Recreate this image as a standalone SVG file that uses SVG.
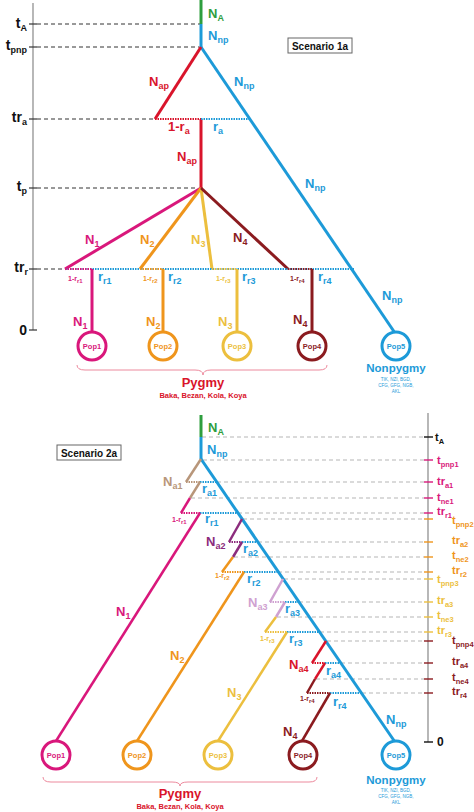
<svg xmlns="http://www.w3.org/2000/svg" width="474" height="812" viewBox="0 0 474 812">
<style>
text{font-family:"Liberation Sans",Arial,sans-serif;font-weight:bold}
.L{font-size:13px}
.S{font-size:9px}
.ax{font-size:14px;fill:#111}
.axs{font-size:9px}
.sm{font-size:7px}
.bx{font-size:11px}
.bxs{font-size:7.5px}
.pop{font-size:7.5px;text-anchor:middle}
.ln{fill:none;stroke-width:3;stroke-linecap:butt}
.ln2{fill:none;stroke-width:2.5}
.dot{fill:none;stroke-width:2;stroke-dasharray:1.5 1}
.dash{fill:none;stroke:#333;stroke-width:1;stroke-dasharray:4 3}
.gdash{fill:none;stroke:#b5b5b5;stroke-width:1;stroke-dasharray:4 3}
.circ{fill:#fff;stroke-width:3}
.g{stroke:#2e9e3e;fill:#2e9e3e}
.b{stroke:#1d9ad8;fill:#1d9ad8}
.r{stroke:#d9142b;fill:#d9142b}
.p{stroke:#d9177b;fill:#d9177b}
.o{stroke:#ef951c;fill:#ef951c}
.y{stroke:#ecbf3e;fill:#ecbf3e}
.d{stroke:#8b1b1f;fill:#8b1b1f}
.t{stroke:#b8967a;fill:#b8967a}
.u{stroke:#8c2c7d;fill:#8c2c7d}
.l{stroke:#cfa1d1;fill:#cfa1d1}
text.g,text.b,text.r,text.p,text.o,text.y,text.d,text.t,text.u,text.l{stroke:none}
.circ.p,.circ.o,.circ.y,.circ.d,.circ.b{fill:#fff}
</style>

<!-- ================= Scenario 1a ================= -->
<g id="axis1">
  <line x1="33" y1="3" x2="33" y2="330" stroke="#888" stroke-width="1.2"/>
  <g stroke="#333" stroke-width="1.2">
    <line x1="29" y1="24" x2="37" y2="24"/>
    <line x1="29" y1="47" x2="37" y2="47"/>
    <line x1="29" y1="119" x2="37" y2="119"/>
    <line x1="29" y1="188" x2="37" y2="188"/>
    <line x1="29" y1="269" x2="37" y2="269"/>
    <line x1="29" y1="330" x2="37" y2="330"/>
  </g>
  <text class="ax" x="27" y="28" text-anchor="end">t<tspan class="axs" dy="3">A</tspan></text>
  <text class="ax" x="27" y="50" text-anchor="end">t<tspan class="axs" dy="3">pnp</tspan></text>
  <text class="ax" x="27" y="122" text-anchor="end">tr<tspan class="axs" dy="3">a</tspan></text>
  <text class="ax" x="27" y="191" text-anchor="end">t<tspan class="axs" dy="3">p</tspan></text>
  <text class="ax" x="28" y="272" text-anchor="end">tr<tspan class="axs" dy="3">r</tspan></text>
  <text class="ax" x="27" y="335" text-anchor="end">0</text>
</g>

<g id="scenario1a-label">
  <rect x="288" y="38" width="64" height="15" fill="#fff" stroke="#666" stroke-width="1"/>
  <text x="320" y="49.5" text-anchor="middle" style="font-size:10px" fill="#111">Scenario 1a</text>
</g>

<g id="connectors1">
  <line class="dash" x1="37" y1="24" x2="200" y2="24"/>
  <line class="dash" x1="37" y1="47" x2="199" y2="47"/>
  <line class="dash" x1="37" y1="119" x2="153" y2="119"/>
  <line class="dash" x1="37" y1="188" x2="198" y2="188"/>
  <line class="dash" x1="37" y1="269" x2="63" y2="269"/>

  <line class="ln g" x1="201" y1="0" x2="201" y2="24"/>
  <line class="ln b" x1="201" y1="24" x2="201" y2="47"/>
  <line class="ln b" x1="201" y1="47" x2="395" y2="333"/>
  <line class="ln r" x1="201" y1="47" x2="155" y2="119"/>
  <line class="ln r" x1="201" y1="119" x2="201" y2="188"/>
  <line class="dot r" x1="155" y1="119" x2="201" y2="119"/>
  <line class="dot b" x1="201" y1="119" x2="250" y2="119" stroke-width="1.2"/>

  <line class="ln p" x1="201" y1="188" x2="65" y2="269"/>
  <line class="ln o" x1="201" y1="188" x2="140" y2="269"/>
  <line class="ln y" x1="201" y1="188" x2="212" y2="269"/>
  <line class="ln d" x1="201" y1="188" x2="288" y2="269"/>

  <line class="dot b" x1="65" y1="269" x2="355" y2="269" stroke-width="1.5"/>
  <line class="dot p" x1="65" y1="269" x2="92" y2="269"/>
  <line class="dot o" x1="140" y1="269" x2="163" y2="269"/>
  <line class="dot y" x1="212" y1="269" x2="237" y2="269"/>
  <line class="dot d" x1="288" y1="269" x2="312" y2="269"/>

  <line class="ln p" x1="92" y1="269" x2="92" y2="332"/>
  <line class="ln o" x1="163" y1="269" x2="163" y2="332"/>
  <line class="ln y" x1="237" y1="269" x2="237" y2="332"/>
  <line class="ln d" x1="312" y1="269" x2="312" y2="332"/>
</g>

<g id="labels1">
  <text class="L g" x="208" y="18">N<tspan class="S" dy="3">A</tspan></text>
  <text class="L b" x="208" y="40">N<tspan class="S" dy="3">np</tspan></text>
  <text class="L r" x="149" y="86">N<tspan class="S" dy="3">ap</tspan></text>
  <text class="L b" x="234" y="86">N<tspan class="S" dy="3">np</tspan></text>
  <text class="L r" x="168" y="131">1-r<tspan class="S" dy="3">a</tspan></text>
  <text class="L b" x="213" y="131">r<tspan class="S" dy="3">a</tspan></text>
  <text class="L r" x="177" y="161">N<tspan class="S" dy="3">ap</tspan></text>
  <text class="L b" x="305" y="188">N<tspan class="S" dy="3">np</tspan></text>
  <text class="L b" x="382" y="300">N<tspan class="S" dy="3">np</tspan></text>

  <text class="L p" x="85" y="244">N<tspan class="S" dy="3">1</tspan></text>
  <text class="L o" x="140" y="244">N<tspan class="S" dy="3">2</tspan></text>
  <text class="L y" x="191" y="244">N<tspan class="S" dy="3">3</tspan></text>
  <text class="L d" x="233" y="242">N<tspan class="S" dy="3">4</tspan></text>

  <text class="sm p" x="68" y="281">1-r<tspan style="font-size:6px" dy="2">r1</tspan></text>
  <text class="L b" x="98" y="281">r<tspan class="S" dy="3">r1</tspan></text>
  <text class="sm o" x="143" y="281">1-r<tspan style="font-size:6px" dy="2">r2</tspan></text>
  <text class="L b" x="168" y="281">r<tspan class="S" dy="3">r2</tspan></text>
  <text class="sm y" x="216" y="281">1-r<tspan style="font-size:6px" dy="2">r3</tspan></text>
  <text class="L b" x="242" y="281">r<tspan class="S" dy="3">r3</tspan></text>
  <text class="sm d" x="290" y="281">1-r<tspan style="font-size:6px" dy="2">r4</tspan></text>
  <text class="L b" x="318" y="281">r<tspan class="S" dy="3">r4</tspan></text>

  <text class="L p" x="73" y="326">N<tspan class="S" dy="3">1</tspan></text>
  <text class="L o" x="146" y="326">N<tspan class="S" dy="3">2</tspan></text>
  <text class="L y" x="218" y="326">N<tspan class="S" dy="3">3</tspan></text>
  <text class="L d" x="293" y="324">N<tspan class="S" dy="3">4</tspan></text>
</g>

<g id="pop1-1a"><circle class="circ p" cx="92" cy="346" r="14"/><text class="pop p" x="92" y="349">Pop1</text></g>
<g id="pop2-1a"><circle class="circ o" cx="163" cy="346" r="14"/><text class="pop o" x="163" y="349">Pop2</text></g>
<g id="pop3-1a"><circle class="circ y" cx="237" cy="346" r="14"/><text class="pop y" x="237" y="349">Pop3</text></g>
<g id="pop4-1a"><circle class="circ d" cx="312" cy="346" r="14"/><text class="pop d" x="312" y="349">Pop4</text></g>
<g id="pop5-1a"><circle class="circ b" cx="396" cy="346" r="14"/><text class="pop b" x="396" y="349">Pop5</text></g>

<g id="groups1a">
  <path d="M77,365 Q77,370 85,370 L195,370 Q203,370 203,375 Q203,370 211,370 L319,370 Q327,370 327,365" fill="none" stroke="#ea7d92" stroke-width="0.9"/>
  <text x="203" y="387" text-anchor="middle" style="font-size:13px" fill="#d9142b">Pygmy</text>
  <text x="203" y="398" text-anchor="middle" style="font-size:7.5px" fill="#d9142b">Baka, Bezan, Kola, Koya</text>
  <text x="396" y="372" text-anchor="middle" style="font-size:11.5px" fill="#1d9ad8">Nonpygmy</text>
  <g fill="#1d9ad8" text-anchor="middle">
    <text x="396" y="381" style="font-size:4.5px;font-weight:normal">TIK, NZI, BGD,</text>
    <text x="396" y="387" style="font-size:4.5px;font-weight:normal">CFG, GFG, NGB,</text>
    <text x="396" y="393" style="font-size:4.5px;font-weight:normal">AKL</text>
  </g>
</g>

<!-- ================= Scenario 2a ================= -->
<g id="scenario2a-label">
  <rect x="57" y="445" width="64" height="15" fill="#fff" stroke="#666" stroke-width="1"/>
  <text x="89" y="456.5" text-anchor="middle" style="font-size:10px" fill="#111">Scenario 2a</text>
</g>

<g id="axis2">
  <line x1="428" y1="413" x2="428" y2="742" stroke="#888" stroke-width="1.2"/>
  <g stroke-width="1.4">
    <line x1="424" y1="437" x2="433" y2="437" stroke="#111"/>
    <line x1="424" y1="460" x2="433" y2="460" stroke="#d9177b"/>
    <line x1="424" y1="482" x2="433" y2="482" stroke="#d9177b"/>
    <line x1="424" y1="498" x2="433" y2="498" stroke="#d9177b"/>
    <line x1="424" y1="513" x2="433" y2="513" stroke="#d9177b"/>
    <line x1="424" y1="519" x2="433" y2="519" stroke="#ef951c"/>
    <line x1="424" y1="542" x2="433" y2="542" stroke="#ef951c"/>
    <line x1="424" y1="557" x2="433" y2="557" stroke="#ef951c"/>
    <line x1="424" y1="572" x2="433" y2="572" stroke="#ef951c"/>
    <line x1="424" y1="579" x2="433" y2="579" stroke="#ecbf3e"/>
    <line x1="424" y1="602" x2="433" y2="602" stroke="#ecbf3e"/>
    <line x1="424" y1="617" x2="433" y2="617" stroke="#ecbf3e"/>
    <line x1="424" y1="632" x2="433" y2="632" stroke="#ecbf3e"/>
    <line x1="424" y1="641" x2="433" y2="641" stroke="#8b1b1f"/>
    <line x1="424" y1="663" x2="433" y2="663" stroke="#8b1b1f"/>
    <line x1="424" y1="679" x2="433" y2="679" stroke="#8b1b1f"/>
    <line x1="424" y1="693" x2="433" y2="693" stroke="#8b1b1f"/>
    <line x1="424" y1="742" x2="433" y2="742" stroke="#111"/>
  </g>
  <text class="bx" x="435" y="441" fill="#111">t<tspan class="bxs" dy="2.5">A</tspan></text>
  <text class="bx p" x="437" y="464">t<tspan class="bxs" dy="2.5">pnp1</tspan></text>
  <text class="bx p" x="437" y="485">tr<tspan class="bxs" dy="2.5">a1</tspan></text>
  <text class="bx p" x="437" y="501">t<tspan class="bxs" dy="2.5">ne1</tspan></text>
  <text class="bx p" x="437" y="515">tr<tspan class="bxs" dy="2.5">r1</tspan></text>
  <text class="bx o" x="452" y="524">t<tspan class="bxs" dy="2.5">pnp2</tspan></text>
  <text class="bx o" x="452" y="544">tr<tspan class="bxs" dy="2.5">a2</tspan></text>
  <text class="bx o" x="452" y="559">t<tspan class="bxs" dy="2.5">ne2</tspan></text>
  <text class="bx o" x="452" y="574">tr<tspan class="bxs" dy="2.5">r2</tspan></text>
  <text class="bx y" x="437" y="583">t<tspan class="bxs" dy="2.5">pnp3</tspan></text>
  <text class="bx y" x="437" y="604">tr<tspan class="bxs" dy="2.5">a3</tspan></text>
  <text class="bx y" x="437" y="619">t<tspan class="bxs" dy="2.5">ne3</tspan></text>
  <text class="bx y" x="437" y="634">tr<tspan class="bxs" dy="2.5">r3</tspan></text>
  <text class="bx d" x="452" y="644">t<tspan class="bxs" dy="2.5">pnp4</tspan></text>
  <text class="bx d" x="452" y="665">tr<tspan class="bxs" dy="2.5">a4</tspan></text>
  <text class="bx d" x="452" y="681">t<tspan class="bxs" dy="2.5">ne4</tspan></text>
  <text class="bx d" x="452" y="695">tr<tspan class="bxs" dy="2.5">r4</tspan></text>
  <text x="437" y="746" style="font-size:12px" fill="#111">0</text>
</g>

<g id="connectors2">
  <line class="gdash" x1="202" y1="437" x2="424" y2="437"/>
  <line class="gdash" x1="203" y1="460" x2="424" y2="460"/>
  <line class="gdash" x1="217" y1="482" x2="424" y2="482"/>
  <line class="gdash" x1="191" y1="498" x2="424" y2="498"/>
  <line class="gdash" x1="238" y1="513" x2="424" y2="513"/>
  <line class="gdash" x1="243" y1="519" x2="424" y2="519"/>
  <line class="gdash" x1="258" y1="542" x2="424" y2="542"/>
  <line class="gdash" x1="234" y1="557" x2="424" y2="557"/>
  <line class="gdash" x1="278" y1="572" x2="424" y2="572"/>
  <line class="gdash" x1="284" y1="579" x2="424" y2="579"/>
  <line class="gdash" x1="299" y1="602" x2="424" y2="602"/>
  <line class="gdash" x1="277" y1="617" x2="424" y2="617"/>
  <line class="gdash" x1="320" y1="632" x2="424" y2="632"/>
  <line class="gdash" x1="327" y1="641" x2="424" y2="641"/>
  <line class="gdash" x1="341" y1="663" x2="424" y2="663"/>
  <line class="gdash" x1="316" y1="679" x2="424" y2="679"/>
  <line class="gdash" x1="362" y1="693" x2="424" y2="693"/>

  <line class="ln g" x1="201" y1="415" x2="201" y2="437"/>
  <line class="ln b" x1="201" y1="437" x2="201" y2="459"/>
  <line class="ln b" x1="201" y1="459" x2="395" y2="742"/>

  <line class="ln2 t" x1="201" y1="459" x2="186" y2="482"/>
  <line class="dot t" x1="186" y1="482" x2="200" y2="482" stroke-width="1.3"/>
  <line class="dot b" x1="200" y1="482" x2="217" y2="482" stroke-width="1.3"/>
  <line class="ln2 t" x1="200" y1="482" x2="190" y2="498"/>
  <line class="ln2 p" x1="190" y1="498" x2="181" y2="513"/>
  <line class="dot p" x1="181" y1="513" x2="200" y2="513" stroke-width="1.3"/>
  <line class="dot b" x1="200" y1="513" x2="238" y2="513" stroke-width="1.3"/>
  <line class="ln2 p" x1="200" y1="513" x2="56" y2="741"/>

  <line class="ln2 u" x1="242" y1="519" x2="229" y2="542"/>
  <line class="dot u" x1="229" y1="542" x2="242" y2="542" stroke-width="1.3"/>
  <line class="dot b" x1="242" y1="542" x2="258" y2="542" stroke-width="1.3"/>
  <line class="ln2 u" x1="242" y1="542" x2="233" y2="557"/>
  <line class="ln2 o" x1="233" y1="557" x2="222" y2="572"/>
  <line class="dot o" x1="222" y1="572" x2="244" y2="572" stroke-width="1.3"/>
  <line class="dot b" x1="244" y1="572" x2="278" y2="572" stroke-width="1.3"/>
  <line class="ln2 o" x1="244" y1="572" x2="137" y2="741"/>

  <line class="ln2 l" x1="283" y1="579" x2="270" y2="602"/>
  <line class="dot l" x1="270" y1="602" x2="285" y2="602" stroke-width="1.3"/>
  <line class="dot b" x1="285" y1="602" x2="299" y2="602" stroke-width="1.3"/>
  <line class="ln2 l" x1="285" y1="602" x2="276" y2="617"/>
  <line class="ln2 y" x1="276" y1="617" x2="265" y2="632"/>
  <line class="dot y" x1="265" y1="632" x2="287" y2="632" stroke-width="1.3"/>
  <line class="dot b" x1="287" y1="632" x2="320" y2="632" stroke-width="1.3"/>
  <line class="ln2 y" x1="287" y1="632" x2="218" y2="741"/>

  <line class="ln2 r" x1="326" y1="641" x2="312" y2="663"/>
  <line class="dot r" x1="312" y1="663" x2="325" y2="663" stroke-width="1.3"/>
  <line class="dot b" x1="325" y1="663" x2="341" y2="663" stroke-width="1.3"/>
  <line class="ln2 r" x1="325" y1="663" x2="315" y2="679"/>
  <line class="ln2 d" x1="315" y1="679" x2="307" y2="693"/>
  <line class="dot d" x1="307" y1="693" x2="330" y2="693" stroke-width="1.3"/>
  <line class="dot b" x1="330" y1="693" x2="362" y2="693" stroke-width="1.3"/>
  <line class="ln2 d" x1="330" y1="693" x2="302" y2="741"/>
</g>

<g id="labels2">
  <text class="L g" x="208" y="432">N<tspan class="S" dy="3">A</tspan></text>
  <text class="L b" x="207" y="454">N<tspan class="S" dy="3">np</tspan></text>
  <text class="L t" x="163" y="486">N<tspan class="S" dy="3">a1</tspan></text>
  <text class="L b" x="202" y="493">r<tspan class="S" dy="3">a1</tspan></text>
  <text class="sm p" x="172" y="522">1-r<tspan style="font-size:6px" dy="2">r1</tspan></text>
  <text class="L b" x="205" y="523">r<tspan class="S" dy="3">r1</tspan></text>
  <text class="L u" x="206" y="546">N<tspan class="S" dy="3">a2</tspan></text>
  <text class="L b" x="243" y="553">r<tspan class="S" dy="3">a2</tspan></text>
  <text class="sm o" x="215" y="578">1-r<tspan style="font-size:6px" dy="2">r2</tspan></text>
  <text class="L b" x="247" y="583">r<tspan class="S" dy="3">r2</tspan></text>
  <text class="L l" x="248" y="607">N<tspan class="S" dy="3">a3</tspan></text>
  <text class="L b" x="285" y="613">r<tspan class="S" dy="3">a3</tspan></text>
  <text class="sm y" x="260" y="641">1-r<tspan style="font-size:6px" dy="2">r3</tspan></text>
  <text class="L b" x="289" y="643">r<tspan class="S" dy="3">r3</tspan></text>
  <text class="L r" x="289" y="669">N<tspan class="S" dy="3">a4</tspan></text>
  <text class="L b" x="326" y="675">r<tspan class="S" dy="3">a4</tspan></text>
  <text class="sm d" x="300" y="701">1-r<tspan style="font-size:6px" dy="2">r4</tspan></text>
  <text class="L b" x="333" y="706">r<tspan class="S" dy="3">r4</tspan></text>

  <text class="L p" x="116" y="616">N<tspan class="S" dy="3">1</tspan></text>
  <text class="L o" x="170" y="660">N<tspan class="S" dy="3">2</tspan></text>
  <text class="L y" x="227" y="697">N<tspan class="S" dy="3">3</tspan></text>
  <text class="L d" x="283" y="736">N<tspan class="S" dy="3">4</tspan></text>
  <text class="L b" x="386" y="724">N<tspan class="S" dy="3">np</tspan></text>
</g>

<g id="pop1-2a"><circle class="circ p" cx="56" cy="755" r="14"/><text class="pop p" x="56" y="758">Pop1</text></g>
<g id="pop2-2a"><circle class="circ o" cx="137" cy="755" r="14"/><text class="pop o" x="137" y="758">Pop2</text></g>
<g id="pop3-2a"><circle class="circ y" cx="218" cy="755" r="14"/><text class="pop y" x="218" y="758">Pop3</text></g>
<g id="pop4-2a"><circle class="circ d" cx="303" cy="755" r="14"/><text class="pop d" x="303" y="758">Pop4</text></g>
<g id="pop5-2a"><circle class="circ b" cx="396" cy="755" r="14"/><text class="pop b" x="396" y="758">Pop5</text></g>

<g id="groups2a">
  <path d="M43,777 Q43,782 51,782 L172,782 Q180,782 180,786 Q180,782 188,782 L309,782 Q317,782 317,777" fill="none" stroke="#ea7d92" stroke-width="0.9"/>
  <text x="180" y="798" text-anchor="middle" style="font-size:13px" fill="#d9142b">Pygmy</text>
  <text x="180" y="809" text-anchor="middle" style="font-size:7.5px" fill="#d9142b">Baka, Bezan, Kola, Koya</text>
  <text x="396" y="784" text-anchor="middle" style="font-size:11.5px" fill="#1d9ad8">Nonpygmy</text>
  <g fill="#1d9ad8" text-anchor="middle">
    <text x="396" y="792" style="font-size:4.5px;font-weight:normal">TIK, NZI, BGD,</text>
    <text x="396" y="798" style="font-size:4.5px;font-weight:normal">CFG, GFG, NGB,</text>
    <text x="396" y="804" style="font-size:4.5px;font-weight:normal">AKL</text>
  </g>
</g>
</svg>
